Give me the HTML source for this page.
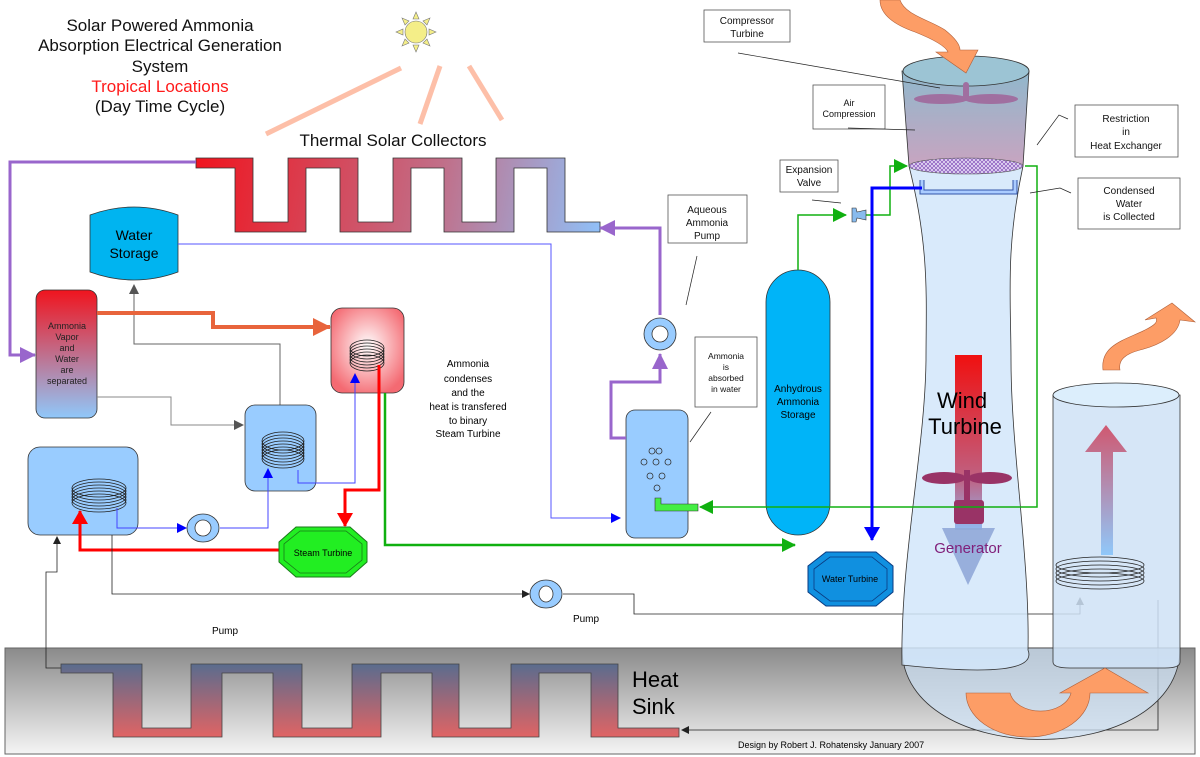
<!DOCTYPE html>
<html><head><meta charset="utf-8"><style>
html,body{margin:0;padding:0;background:#fff;}
svg{display:block;font-family:"Liberation Sans",sans-serif;}
</style></head><body>
<svg width="1200" height="757" viewBox="0 0 1200 757" xmlns="http://www.w3.org/2000/svg">
<defs>
<linearGradient id="col" x1="196" y1="158" x2="600" y2="232" gradientUnits="userSpaceOnUse">
<stop offset="0" stop-color="#f0141e"/><stop offset="0.6" stop-color="#c0708a"/><stop offset="1" stop-color="#90c0f8"/></linearGradient>
<linearGradient id="sep" x1="0" y1="0" x2="0" y2="1"><stop offset="0" stop-color="#f0141e"/><stop offset="1" stop-color="#90c8fa"/></linearGradient>
<radialGradient id="rbox" cx="0.5" cy="0.45" r="0.6"><stop offset="0" stop-color="#ffffff"/><stop offset="1" stop-color="#f46a72"/></radialGradient>
<linearGradient id="sink" x1="0" y1="0" x2="0" y2="1"><stop offset="0" stop-color="#8a8a8a"/><stop offset="1" stop-color="#f4f4f4"/></linearGradient>
<linearGradient id="hs" x1="0" y1="664" x2="0" y2="737" gradientUnits="userSpaceOnUse"><stop offset="0" stop-color="#5a6c8e"/><stop offset="1" stop-color="#e06464"/></linearGradient>
<linearGradient id="top" x1="0" y1="0" x2="0" y2="1"><stop offset="0" stop-color="#90b8cc"/><stop offset="1" stop-color="#c8a4c0"/></linearGradient>
<linearGradient id="dn" x1="0" y1="0" x2="0" y2="1"><stop offset="0" stop-color="#f01010"/><stop offset="0.7" stop-color="#c06080"/><stop offset="1" stop-color="#90b8f0"/></linearGradient>
<linearGradient id="up" x1="0" y1="1" x2="0" y2="0"><stop offset="0" stop-color="#90c8fa"/><stop offset="1" stop-color="#d05870"/></linearGradient>
<pattern id="hatch" width="4" height="4" patternUnits="userSpaceOnUse"><rect width="4" height="4" fill="#e8e0f8"/><path d="M0,0L4,4M4,0L0,4" stroke="#9060c0" stroke-width="0.8"/></pattern>
<marker id="aK" markerWidth="8" markerHeight="8" refX="7" refY="4" orient="auto" markerUnits="userSpaceOnUse"><path d="M0,0L8,4L0,8Z" fill="#222"/></marker>
<marker id="aG" markerWidth="10" markerHeight="10" refX="9" refY="5" orient="auto" markerUnits="userSpaceOnUse"><path d="M0,0L10,5L0,10Z" fill="#555"/></marker>
<marker id="aB" markerWidth="10" markerHeight="10" refX="9" refY="5" orient="auto" markerUnits="userSpaceOnUse"><path d="M0,0L10,5L0,10Z" fill="#0000ff"/></marker>
<marker id="aBB" markerWidth="14" markerHeight="16" refX="13" refY="8" orient="auto" markerUnits="userSpaceOnUse"><path d="M0,0L14,8L0,16Z" fill="#0000ff"/></marker>
<marker id="aR" markerWidth="14" markerHeight="16" refX="13" refY="8" orient="auto" markerUnits="userSpaceOnUse"><path d="M0,0L14,8L0,16Z" fill="#ff0000"/></marker>
<marker id="aO" markerWidth="18" markerHeight="18" refX="17" refY="9" orient="auto" markerUnits="userSpaceOnUse"><path d="M0,0L18,9L0,18Z" fill="#e8643c"/></marker>
<marker id="aP" markerWidth="16" markerHeight="16" refX="15" refY="8" orient="auto" markerUnits="userSpaceOnUse"><path d="M0,0L16,8L0,16Z" fill="#9966cc"/></marker>
<marker id="aGr" markerWidth="14" markerHeight="14" refX="13" refY="7" orient="auto" markerUnits="userSpaceOnUse"><path d="M0,0L14,7L0,14Z" fill="#10b010"/></marker>
</defs>

<rect x="5" y="648" width="1190" height="106" fill="url(#sink)" stroke="#666" stroke-width="1"/>

<g font-size="17" text-anchor="middle" fill="#111">
<text x="160" y="31">Solar Powered Ammonia</text>
<text x="160" y="51">Absorption Electrical Generation</text>
<text x="160" y="72">System</text>
<text x="160" y="92" fill="#ff1a1a">Tropical Locations</text>
<text x="160" y="112">(Day Time Cycle)</text>
<text x="393" y="146">Thermal Solar Collectors</text>
</g>
<g stroke="#777" stroke-width="0.6" fill="#f4ee88">
<polygon points="416,12 419,19 413,19"/><polygon points="416,52 419,45 413,45"/>
<polygon points="396,32 403,29 403,35"/><polygon points="436,32 429,29 429,35"/>
<polygon points="402,18 409,21 405,25"/><polygon points="430,18 423,21 427,25"/>
<polygon points="402,46 409,43 405,39"/><polygon points="430,46 423,43 427,39"/>
<circle cx="416" cy="32" r="11"/>
</g>
<g stroke="#fdbfa8" stroke-width="5"><line x1="266" y1="134" x2="401" y2="68"/><line x1="440" y1="66" x2="420" y2="124"/><line x1="469" y1="66" x2="502" y2="120"/></g>

<path d="M196,158 L253,158 L253,222 L288,222 L288,158 L358,158 L358,222 L393,222 L393,158 L462,158 L462,222 L496,222 L496,158 L565,158 L565,222 L600,222 L600,232 L547,232 L547,168 L514,168 L514,232 L444,232 L444,168 L411,168 L411,232 L340,232 L340,168 L306,168 L306,232 L235,232 L235,168 L196,168 Z" fill="url(#col)" stroke="#333" stroke-width="0.8"/>

<path d="M196,162 L10,162 L10,355 L35,355" fill="none" stroke="#9966cc" stroke-width="3" marker-end="url(#aP)"/>

<path d="M90,215 Q134,199 178,215 L178,272 Q134,288 90,272 Z" fill="#00b4f0" stroke="#333" stroke-width="0.8"/>
<text x="134" y="240" font-size="14" text-anchor="middle">Water</text>
<text x="134" y="258" font-size="14" text-anchor="middle">Storage</text>

<rect x="36" y="290" width="61" height="128" rx="9" fill="url(#sep)" stroke="#333" stroke-width="0.8"/>
<g font-size="9" text-anchor="middle" fill="#222">
<text x="67" y="329">Ammonia</text><text x="67" y="340">Vapor</text><text x="67" y="351">and</text><text x="67" y="362">Water</text><text x="67" y="373">are</text><text x="67" y="384">separated</text></g>

<path d="M280,405 L280,344 L134,344 L134,285" fill="none" stroke="#666" stroke-width="1" marker-end="url(#aG)"/>
<path d="M97,397 L171,397 L171,425 L243,425" fill="none" stroke="#888" stroke-width="1" marker-end="url(#aG)"/>

<path d="M97,313 L213,313 L213,327 L330,327" fill="none" stroke="#e8643c" stroke-width="4" marker-end="url(#aO)"/>

<rect x="331" y="308" width="73" height="85" rx="11" fill="url(#rbox)" stroke="#333" stroke-width="0.8"/>
<g fill="none" stroke="#222" stroke-width="0.8"><ellipse cx="367" cy="348" rx="17" ry="8"/><ellipse cx="367" cy="351" rx="17" ry="8"/><ellipse cx="367" cy="354" rx="17" ry="8"/><ellipse cx="367" cy="357" rx="17" ry="8"/><ellipse cx="367" cy="360" rx="17" ry="8"/><ellipse cx="367" cy="363" rx="17" ry="8"/></g>

<rect x="245" y="405" width="71" height="86" rx="10" fill="#99ccff" stroke="#333" stroke-width="0.8"/>
<g fill="none" stroke="#222" stroke-width="0.8"><ellipse cx="283" cy="441" rx="21" ry="9"/><ellipse cx="283" cy="444" rx="21" ry="9"/><ellipse cx="283" cy="447" rx="21" ry="9"/><ellipse cx="283" cy="450" rx="21" ry="9"/><ellipse cx="283" cy="453" rx="21" ry="9"/><ellipse cx="283" cy="456" rx="21" ry="9"/><ellipse cx="283" cy="459" rx="21" ry="9"/></g>

<rect x="28" y="447" width="110" height="88" rx="12" fill="#99ccff" stroke="#333" stroke-width="0.8"/>
<g fill="none" stroke="#222" stroke-width="0.8"><ellipse cx="99" cy="488" rx="27" ry="9"/><ellipse cx="99" cy="491" rx="27" ry="9"/><ellipse cx="99" cy="494" rx="27" ry="9"/><ellipse cx="99" cy="497" rx="27" ry="9"/><ellipse cx="99" cy="500" rx="27" ry="9"/><ellipse cx="99" cy="503" rx="27" ry="9"/></g>

<path d="M298,470 L298,483 L355,483 L355,374" fill="none" stroke="#4444ff" stroke-width="1" marker-end="url(#aB)"/>
<path d="M117,508 L117,528 L186,528" fill="none" stroke="#4444ff" stroke-width="1" marker-end="url(#aB)"/>
<path d="M220,528 L268,528 L268,469" fill="none" stroke="#4444ff" stroke-width="1" marker-end="url(#aB)"/>
<path d="M178,244 L551,244 L551,518 L620,518" fill="none" stroke="#5555ff" stroke-width="1" marker-end="url(#aB)"/>
<ellipse cx="203" cy="528" rx="16" ry="14" fill="#99ccff" stroke="#333" stroke-width="0.8"/><ellipse cx="203" cy="528" rx="8" ry="8" fill="#fff" stroke="#333" stroke-width="0.8"/>

<path d="M279,550 L80,550 L80,511" fill="none" stroke="#ff0000" stroke-width="3" marker-end="url(#aR)"/>
<path d="M379,365 L379,490 L345,490 L345,526" fill="none" stroke="#ff0000" stroke-width="3" marker-end="url(#aR)"/>

<polygon points="296,527 350,527 367,542 367,562 350,577 296,577 279,562 279,542" fill="#22ee22" stroke="#1a7a1a" stroke-width="1"/>
<polygon points="300,531 346,531 362,544 362,560 346,573 300,573 284,560 284,544" fill="none" stroke="#1a7a1a" stroke-width="0.8"/>
<text x="323" y="556" font-size="9" text-anchor="middle">Steam Turbine</text>

<path d="M385,393 L385,545 L795,545" fill="none" stroke="#10b010" stroke-width="2.5" marker-end="url(#aGr)"/>

<text x="468" y="367" font-size="10" text-anchor="middle">Ammonia</text>
<text x="468" y="382" font-size="10" text-anchor="middle">condenses</text>
<text x="468" y="396" font-size="10" text-anchor="middle">and the</text>
<text x="468" y="410" font-size="10" text-anchor="middle">heat is transfered</text>
<text x="468" y="424" font-size="10" text-anchor="middle">to binary</text>
<text x="468" y="437" font-size="10" text-anchor="middle">Steam Turbine</text>

<path d="M62,668 L46,668 L46,572 L57,572 L57,537" fill="none" stroke="#222" stroke-width="0.8" marker-end="url(#aK)"/>
<path d="M112,535 L112,594 L529,594" fill="none" stroke="#222" stroke-width="0.8" marker-end="url(#aK)"/>
<path d="M563,594 L634,594 L634,614 L1080,614 L1080,598" fill="none" stroke="#222" stroke-width="0.8" marker-end="url(#aK)"/>
<ellipse cx="546" cy="594" rx="16" ry="14" fill="#99ccff" stroke="#333" stroke-width="0.8"/><ellipse cx="546" cy="594" rx="7" ry="8" fill="#fff" stroke="#333" stroke-width="0.8"/>
<text x="225" y="634" font-size="10" text-anchor="middle">Pump</text>
<text x="586" y="622" font-size="10" text-anchor="middle">Pump</text>

<path d="M61,664 L142,664 L142,728 L191,728 L191,664 L302,664 L302,728 L352,728 L352,664 L459,664 L459,728 L511,728 L511,664 L618,664 L618,728 L679,728 L679,737 L591,737 L591,673 L539,673 L539,737 L432,737 L432,673 L381,673 L381,737 L273,737 L273,673 L222,673 L222,737 L113,737 L113,673 L61,673 Z" fill="url(#hs)" stroke="#444" stroke-width="0.8"/>
<text x="632" y="687" font-size="22">Heat</text>
<text x="632" y="714" font-size="22">Sink</text>
<path d="M1158,600 L1158,730 L682,730" fill="none" stroke="#222" stroke-width="0.8" marker-end="url(#aK)"/>
<text x="738" y="748" font-size="9">Design by Robert J. Rohatensky January 2007</text>

<path d="M902,648 C902,770 1180,770 1180,648 Z" fill="#cfe2f6" fill-opacity="0.7" stroke="#333" stroke-width="0.8"/>
<path d="M909,166 C930,250 926,300 926,360 C925,450 900,560 902,665 Q1040,680 1028,650 C1030,560 1011,450 1011,360 C1011,300 1005,250 1023,166 Z" fill="#d2e6fa" fill-opacity="0.85" stroke="#333" stroke-width="0.8"/>
<path d="M902,71 L909,166 L1023,166 L1029,71 Z" fill="url(#top)" stroke="#333" stroke-width="0.8"/>
<ellipse cx="966" cy="71" rx="63" ry="15" fill="#9cc4d4" stroke="#333" stroke-width="0.8"/>
<ellipse cx="966" cy="166" rx="57" ry="8" fill="url(#hatch)" stroke="#555" stroke-width="0.6"/>
<ellipse cx="941" cy="99" rx="27" ry="5" fill="#a06fa0"/><ellipse cx="991" cy="99" rx="27" ry="5" fill="#a06fa0"/><rect x="963" y="82" width="6" height="18" rx="3" fill="#a06fa0"/>
<path d="M922,180 L922,192 L1015,192 L1015,180" fill="none" stroke="#3355aa" stroke-width="5"/>
<path d="M922,180 L922,192 L1015,192 L1015,180" fill="none" stroke="#aaccff" stroke-width="3"/>
<rect x="955" y="355" width="27" height="175" fill="url(#dn)"/>
<polygon points="942,528 995,528 968,585" fill="#90a8d8" fill-opacity="0.9"/>
<ellipse cx="944" cy="478" rx="22" ry="6" fill="#993366"/><ellipse cx="990" cy="478" rx="22" ry="6" fill="#993366"/><rect x="964" y="470" width="6" height="35" fill="#993366"/>
<rect x="954" y="500" width="30" height="24" rx="3" fill="#993366"/>
<text x="962" y="408" font-size="22" text-anchor="middle">Wind</text>
<text x="965" y="434" font-size="22" text-anchor="middle">Turbine</text>
<text x="968" y="553" font-size="15" fill="#80207a" text-anchor="middle">Generator</text>

<path d="M1053,395 L1053,662 Q1053,668 1070,668 L1165,668 Q1180,668 1180,662 L1180,395 Z" fill="#cfe2f6" fill-opacity="0.85" stroke="#333" stroke-width="0.8"/>
<ellipse cx="1116" cy="395" rx="63" ry="12" fill="#dceefc" stroke="#333" stroke-width="0.8"/>
<path d="M1101,555 L1101,452 L1085,452 L1106,425 L1127,452 L1113,452 L1113,555 Z" fill="url(#up)"/>
<g fill="none" stroke="#222" stroke-width="0.8"><ellipse cx="1100" cy="565" rx="44" ry="8"/><ellipse cx="1100" cy="569" rx="44" ry="8"/><ellipse cx="1100" cy="573" rx="44" ry="8"/><ellipse cx="1100" cy="577" rx="44" ry="8"/><ellipse cx="1100" cy="581" rx="44" ry="8"/></g>

<path d="M880,0 L900,0 C905,15 930,20 945,30 C955,38 960,45 960,50 L978,50 L966,73 L936,52 L948,52 C945,45 930,38 915,32 C895,25 880,15 880,0 Z" fill="#fd9d66" stroke="#b0603a" stroke-width="0.6"/>
<path d="M1103,370 C1100,345 1125,340 1145,330 C1155,325 1158,322 1156,318 L1145,320 L1172,303 L1195,322 L1180,320 C1178,335 1160,345 1140,350 C1125,354 1118,360 1120,370 Z" fill="#fd9d66" stroke="#b0603a" stroke-width="0.6"/>
<path d="M966,693 A62,44 0 0 0 1090,693 L1148,693 L1105,668 L1060,693 L1071,693 A31,22 0 0 1 1010,693 Z" fill="#fd9d66" stroke="#b0603a" stroke-width="0.6"/>

<rect x="766" y="270" width="64" height="265" rx="32" fill="#00b4f8" stroke="#333" stroke-width="0.8"/>
<text x="798" y="392" font-size="10" text-anchor="middle">Anhydrous</text>
<text x="798" y="405" font-size="10" text-anchor="middle">Ammonia</text>
<text x="798" y="418" font-size="10" text-anchor="middle">Storage</text>

<rect x="626" y="410" width="62" height="128" rx="9" fill="#99ccff" stroke="#333" stroke-width="0.8"/>
<g fill="none" stroke="#333" stroke-width="0.8"><circle cx="652" cy="451" r="3"/><circle cx="659" cy="451" r="3"/><circle cx="644" cy="462" r="3"/><circle cx="656" cy="462" r="3"/><circle cx="668" cy="462" r="3"/><circle cx="650" cy="476" r="3"/><circle cx="662" cy="476" r="3"/><circle cx="657" cy="488" r="3"/></g>
<path d="M655,498 L661,498 L661,504 L698,504 L698,511 L655,511 Z" fill="#44ee44" stroke="#333" stroke-width="0.6"/>
<path d="M1025,166 L1037,166 L1037,507 L700,507" fill="none" stroke="#10b010" stroke-width="1.5" marker-end="url(#aGr)"/>

<path d="M626,438 L611,438 L611,382 L660,382 L660,354" fill="none" stroke="#9966cc" stroke-width="3" marker-end="url(#aP)"/>
<path d="M660,315 L660,228 L600,228" fill="none" stroke="#9966cc" stroke-width="3" marker-end="url(#aP)"/>
<ellipse cx="660" cy="334" rx="16" ry="16" fill="#99ccff" stroke="#333" stroke-width="0.8"/><circle cx="660" cy="334" r="8" fill="#fff" stroke="#333" stroke-width="0.8"/>

<path d="M798,270 L798,215 L846,215" fill="none" stroke="#10b010" stroke-width="1.5" marker-end="url(#aGr)"/>
<path d="M866,215 L890,215 L890,166 L907,166" fill="none" stroke="#10b010" stroke-width="1.5" marker-end="url(#aGr)"/>
<path d="M852,208 L856,208 L857,212 L866,210 L866,220 L857,218 L856,222 L852,222 Z" fill="#88bbee" stroke="#333" stroke-width="0.6"/>

<path d="M922,188 L872,188 L872,540" fill="none" stroke="#0000ff" stroke-width="3" marker-end="url(#aBB)"/>
<polygon points="826,552 876,552 893,566 893,592 876,606 826,606 808,592 808,566" fill="#1090e0" stroke="#0a3a80" stroke-width="1"/>
<polygon points="830,557 872,557 887,569 887,589 872,601 830,601 814,589 814,569" fill="none" stroke="#0a3a80" stroke-width="0.8"/>
<text x="850" y="582" font-size="9" text-anchor="middle">Water Turbine</text>

<g fill="#fff" stroke="#555" stroke-width="0.8">
<rect x="704" y="10" width="86" height="32"/><rect x="813" y="85" width="72" height="44"/><rect x="780" y="160" width="58" height="32"/><rect x="668" y="195" width="79" height="48"/><rect x="695" y="337" width="62" height="70"/><rect x="1075" y="105" width="103" height="52"/><rect x="1078" y="178" width="102" height="51"/></g>
<g stroke="#222" stroke-width="0.7" fill="none">
<line x1="738" y1="53" x2="940" y2="88"/><line x1="848" y1="128" x2="915" y2="130"/><line x1="812" y1="200" x2="841" y2="203"/>
<line x1="697" y1="256" x2="686" y2="305"/><line x1="711" y1="412" x2="690" y2="442"/>
<polyline points="1037,145 1059,115 1068,119"/><polyline points="1030,193 1060,188 1071,193"/></g>
<g font-size="10" text-anchor="middle" fill="#111">
<text x="747" y="24">Compressor</text><text x="747" y="37">Turbine</text>
<text x="849" y="106" font-size="9">Air</text><text x="849" y="117" font-size="9">Compression</text>
<text x="809" y="173">Expansion</text><text x="809" y="186">Valve</text>
<text x="707" y="213">Aqueous</text><text x="707" y="226">Ammonia</text><text x="707" y="239">Pump</text>
<text x="726" y="359" font-size="8.5">Ammonia</text><text x="726" y="370" font-size="8.5">is</text><text x="726" y="381" font-size="8.5">absorbed</text><text x="726" y="392" font-size="8.5">in water</text>
<text x="1126" y="122">Restriction</text><text x="1126" y="135">in</text><text x="1126" y="149">Heat Exchanger</text>
<text x="1129" y="194">Condensed</text><text x="1129" y="207">Water</text><text x="1129" y="220">is Collected</text>
</g>
</svg>
</body></html>
